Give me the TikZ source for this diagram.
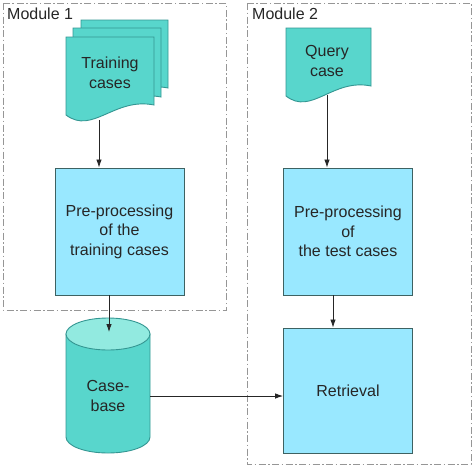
\documentclass[tikz,border=0pt]{standalone}
\usepackage{fontspec}
\setmainfont{Liberation Sans}
\definecolor{doccyan}{RGB}{88,214,204}
\definecolor{docedge}{RGB}{52,150,146}
\definecolor{cyltop}{RGB}{146,234,224}
\definecolor{boxblue}{RGB}{153,232,255}
\definecolor{boxedge}{RGB}{62,98,98}
\definecolor{framegray}{RGB}{150,150,150}
\usetikzlibrary{arrows.meta,positioning,calc}

% document sheet with wavy bottom: left x, top y, width, left-bottom y
\newcommand{\docsheet}[4]{%
  \filldraw[sheet] (#1,#2) -- (#1+#3,#2) -- (#1+#3,#4-10)
    .. controls (#1+0.55*#3,#4-18) and (#1+0.3*#3,#4+20) .. (#1,#4) -- cycle;}

\begin{document}
\begin{tikzpicture}[
  x=1pt,y=-1pt,
  every node/.style={font=\fontsize{16}{19.5}\selectfont,text=black!85},
  sheet/.style={fill=doccyan,draw=docedge,line width=0.9pt},
  procbox/.style={draw=boxedge,fill=boxblue,line width=0.9pt,minimum width=129pt,
                  minimum height=127pt,align=center,inner sep=2pt},
  frame/.style={draw=framegray,line width=0.9pt,
                dash pattern=on 7pt off 2.5pt on 1.5pt off 2.5pt},
  arr/.style={-{Latex[length=8pt,width=5.5pt]},line width=0.8pt,black!85},
]
  \useasboundingbox (0,0) rectangle (474,469);

  % Modules
  \draw[frame] (3,3) rectangle (226,310);
  \draw[frame] (247,3) rectangle (471,464);
  \node[anchor=west,inner sep=0] (mod1) at (7,14) {Module 1};
  \node[anchor=west,inner sep=0] (mod2) at (252,14) {Module 2};

  % Training cases
  \docsheet{81}{20}{87}{98}
  \docsheet{73}{28}{88}{107}
  \docsheet{66}{37}{88}{115}
  \node[align=center] (train) at (110,73) {Training\\cases};
  \coordinate (trainout) at (99,120);

  % Query case
  \docsheet{286}{28}{85}{96}
  \node[align=center] (query) at (327,61) {Query\\case};
  \coordinate (queryout) at (327,95);

  % Pre-processing
  \node[procbox] (pre1) at (119.5,231.5) {Pre-processing\\of the\\training cases};
  \node[procbox] (pre2) at (348,231.5) {Pre-processing\\of\\the test cases};

  % Case-base
  \filldraw[sheet] (66,334) -- (66,437) arc[start angle=180,end angle=0,x radius=42,y radius=16]
    -- (150,334) -- cycle;
  \filldraw[sheet,fill=cyltop] (108,334) ellipse [x radius=42,y radius=16];
  \node[align=center,minimum width=84pt,minimum height=100pt,inner sep=0] (cbase) at (108,396) {Case-\\base};
  \coordinate (cbtop) at (109,332);

  % Retrieval
  \node[procbox,minimum height=125pt] (retr) at (348,390.5) {Retrieval};

  % Connectors
  \draw[arr] (trainout) -- (trainout |- pre1.north);
  \draw[arr] (queryout) -- (queryout |- pre2.north);
  \draw[arr] (pre1.south -| cbtop) -- (cbtop);
  \draw[arr] ([xshift=-15pt]pre2.south) -- ([xshift=-15pt]retr.north);
  \draw[arr] (cbase.east) -- (cbase.east -| retr.west);
\end{tikzpicture}
\end{document}
